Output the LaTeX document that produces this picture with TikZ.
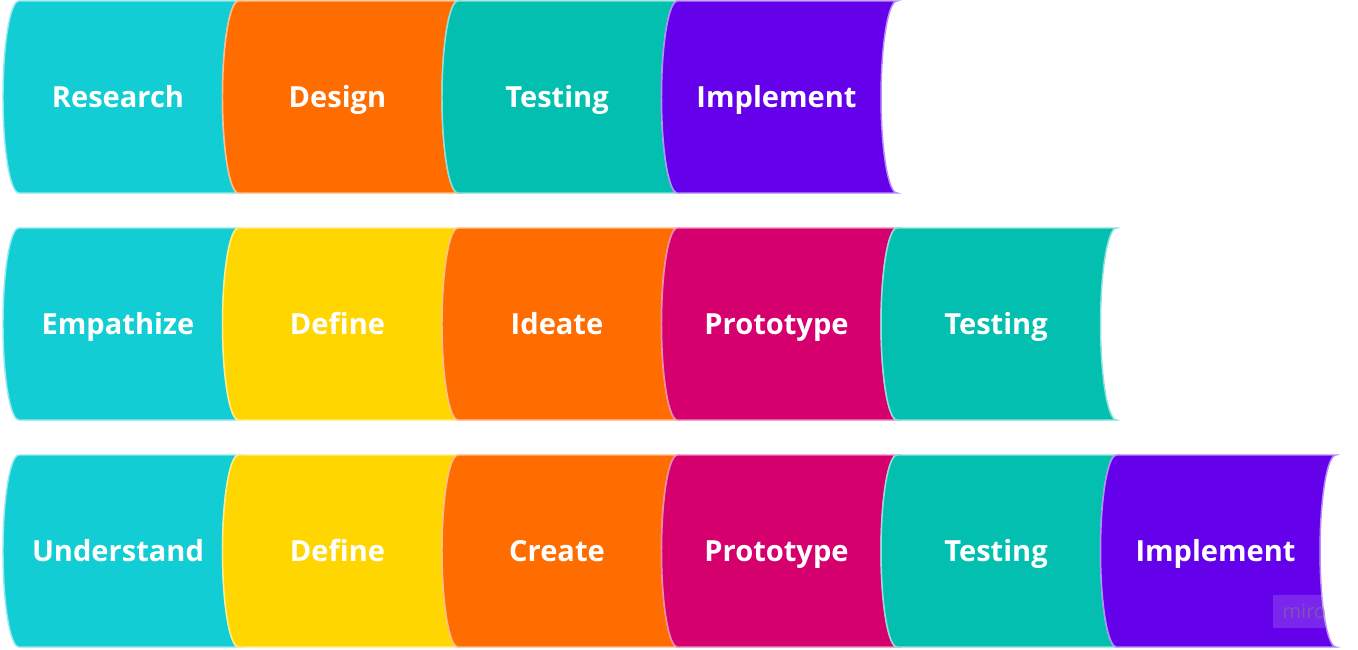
\documentclass[tikz,border=0pt]{standalone}
\usepackage{fontspec}
\setmainfont{Open Sans}

\definecolor{cyanseg}{HTML}{13CDD4}
\definecolor{orangeseg}{HTML}{FF6D00}
\definecolor{tealseg}{HTML}{03BFAF}
\definecolor{purpleseg}{HTML}{6400EA}
\definecolor{yellowseg}{HTML}{FFD600}
\definecolor{pinkseg}{HTML}{D5006D}

\tikzset{
  seg/.style={line width=1.1pt},
  seglabel/.style={text=white, font=\bfseries\fontsize{21.8}{24}\selectfont,
    text height=15.6pt, text depth=0pt, inner sep=0pt},
}

% one stage piece: left x, top y, colour, text, node name
\newcommand{\stagepiece}[5]{%
  \filldraw[seg, fill=#3, draw=#3!45!white]
    ({#1+16},{-(#2)}) arc[start angle=90, end angle=270, x radius=16, y radius=96]
    -- ++(219.5,0) arc[start angle=270, end angle=90, x radius=16, y radius=96]
    -- cycle;
  \node[seglabel] (#5) at ({#1+115},{-(#2)-96}) {#4};
}

\begin{document}
\begin{tikzpicture}[x=0.75pt, y=0.75pt]
\useasboundingbox (0,0) rectangle (1358,-649);

% first row
\foreach \c/\t [count=\i from 0] in {cyanseg/Research, orangeseg/Design, tealseg/Testing, purpleseg/Implement}
  {\stagepiece{\i*219.5+3}{1}{\c}{\t}{a\i}}

% second row
\foreach \c/\t [count=\i from 0] in {cyanseg/Empathize, yellowseg/Define, orangeseg/Ideate, pinkseg/Prototype, tealseg/Testing}
  {\stagepiece{\i*219.5+3}{228}{\c}{\t}{b\i}}

% third row
\foreach \c/\t [count=\i from 0] in {cyanseg/Understand, yellowseg/Define, orangeseg/Create, pinkseg/Prototype, tealseg/Testing, purpleseg/Implement}
  {\stagepiece{\i*219.5+3}{455}{\c}{\t}{c\i}}

% watermark
\node[fill=white, fill opacity=0.15, minimum width=39pt, minimum height=25pt, inner sep=0pt] (miro) at (1299,-611.5) {};
\node[text=gray, text opacity=0.5, inner sep=0pt,
  font=\fontsize{15}{16}\selectfont] (mirotext) at ([xshift=4pt]miro.center) {miro};

\end{tikzpicture}
\end{document}
